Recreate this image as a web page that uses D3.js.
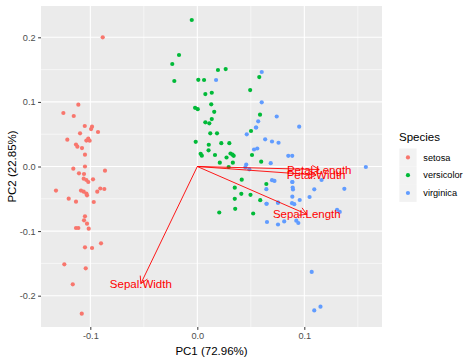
<!DOCTYPE html>
<html><head><meta charset="utf-8">
<script src="https://cdn.jsdelivr.net/npm/d3@7"></script>
<style>body{margin:0;background:#fff}svg{display:block;font-family:"Liberation Sans",Arial,sans-serif}</style>
</head><body><svg id="c" width="474" height="363"></svg>
<script>
const species = ["setosa","versicolor","virginica"];
const speciesColors = ["#F8766D","#00BA38","#619CFF"];
const setosaPC1 = [-0.0884,-0.1112,-0.1252,-0.1155,-0.1052,-0.0984,-0.0993,-0.0928,-0.1096,-0.1215,-0.1037,-0.1019,-0.1006,-0.1134,-0.1121,-0.1078,-0.1050,-0.1050,-0.1159,-0.0863,-0.1106,-0.1059,-0.1062,-0.1037,-0.1019,-0.0975,-0.1321,-0.1087,-0.1062,-0.1037,-0.1031,-0.0935,-0.0907,-0.0869,-0.1202,-0.1134,-0.0968,-0.1050,-0.1059,-0.1031,-0.1134,-0.1112,-0.1015,-0.0900,-0.1050,-0.0984,-0.1243,-0.1043,-0.1164,-0.1080];
const setosaPC2 = [0.2000,0.0957,0.0828,0.0782,0.0627,0.0616,0.0580,0.0534,0.0514,0.0415,0.0402,0.0433,0.0399,0.0341,0.0307,0.0286,0.0183,0.0000,-0.0034,-0.0065,-0.0105,-0.0116,-0.0189,-0.0209,-0.0240,-0.0198,-0.0372,-0.0372,-0.0390,-0.0418,-0.0446,-0.0390,-0.0341,-0.0348,-0.0498,-0.0545,-0.0550,-0.0771,-0.0833,-0.0885,-0.0952,-0.0952,-0.0963,-0.1189,-0.1251,-0.1262,-0.1514,-0.1576,-0.1824,-0.2279];
const versicolorPC1 = [-0.0052,-0.0171,-0.0234,-0.0215,0.0193,0.0265,0.0009,0.0063,0.0579,0.0075,0.0135,0.0494,0.0130,-0.0021,0.0004,0.0158,0.0586,0.0135,0.0075,0.0112,0.0502,0.0121,0.0184,-0.0015,0.0107,0.0224,0.0299,0.0105,0.0031,0.0042,0.0165,0.0273,0.0310,0.0329,0.0340,0.0511,0.0210,0.0332,0.0597,0.0293,0.0415,0.0350,0.0645,0.0411,0.0497,0.0350,0.0588,0.0205,0.0354,0.0522];
const versicolorPC2 = [0.2268,0.1726,0.1587,0.1324,0.1494,0.1509,0.1342,0.1339,0.1385,0.1122,0.1142,0.1184,0.0963,0.0909,0.0887,0.0847,0.0802,0.0735,0.0684,0.0669,0.0550,0.0514,0.0514,0.0382,0.0337,0.0361,0.0361,0.0251,0.0197,0.0167,0.0178,0.0139,0.0201,0.0183,0.0166,0.0178,0.0059,0.0059,0.0074,-0.0008,-0.0204,-0.0328,-0.0271,-0.0423,-0.0438,-0.0500,-0.0522,-0.0712,-0.0655,-0.0728];
const virginicaPC1 = [0.0602,0.0175,0.0602,0.0742,0.0952,0.0569,0.0549,0.0462,0.0634,0.0698,0.0759,0.0530,0.0560,0.0850,0.0887,0.0686,0.0457,0.0449,0.0486,0.1575,0.0698,0.0721,0.0888,0.0891,0.0894,0.1093,0.1374,0.1161,0.0645,0.0888,0.1049,0.0957,0.0647,0.0754,0.0885,0.0906,0.1306,0.1331,0.0651,0.0754,0.0812,0.0925,0.0944,0.1069,0.1093,0.1151,0.0754,0.0888,0.0647,0.0549];
const virginicaPC2 = [0.1463,0.1339,0.0994,0.0774,0.0616,0.0700,0.0604,0.0498,0.0421,0.0387,0.0368,0.0263,0.0279,0.0166,0.0166,0.0051,0.0031,-0.0012,-0.0043,-0.0008,-0.0212,-0.0224,-0.0240,-0.0325,-0.0356,-0.0353,-0.0345,-0.0209,-0.0351,-0.0467,-0.0472,-0.0519,-0.0577,-0.0560,-0.0568,-0.0584,-0.0670,-0.0704,-0.0859,-0.0898,-0.0851,-0.0839,-0.0875,-0.1633,-0.2229,-0.2170,-0.0560,-0.0240,-0.0577,0.0604];
const loadingNames = ["Sepal.Length","Sepal.Width","Petal.Length","Petal.Width"];
const loadingPC1 = [0.1023,-0.0528,0.1139,0.1110];
const loadingPC2 = [-0.0740,-0.1813,-0.0047,-0.0132];
const xDomain = [-0.1461,0.1726];
const yDomain = [-0.2485,0.2485];
const xTicks = [-0.1,0,0.1], xMinor = [-0.05,0.05,0.15];
const yTicks = [-0.2,-0.1,0,0.1,0.2], yMinor = [-0.15,-0.05,0.05,0.15];
const xTitle = "PC1 (72.96%)", yTitle = "PC2 (22.85%)", legendTitle = "Species";

const svg = d3.select("#c");
const L=41, R=382, T=6, B=327;
const x = d3.scaleLinear().domain(xDomain).range([L,R]);
const y = d3.scaleLinear().domain(yDomain).range([B,T]);
svg.append("rect").attr("x",L).attr("y",T).attr("width",R-L).attr("height",B-T).attr("fill","#EBEBEB");
const g = svg.append("g");
xMinor.forEach(v=>g.append("line").attr("x1",x(v)).attr("x2",x(v)).attr("y1",T).attr("y2",B).attr("stroke","#fff").attr("stroke-width",0.55));
yMinor.forEach(v=>g.append("line").attr("y1",y(v)).attr("y2",y(v)).attr("x1",L).attr("x2",R).attr("stroke","#fff").attr("stroke-width",0.55));
xTicks.forEach(v=>g.append("line").attr("x1",x(v)).attr("x2",x(v)).attr("y1",T).attr("y2",B).attr("stroke","#fff").attr("stroke-width",1.1));
yTicks.forEach(v=>g.append("line").attr("y1",y(v)).attr("y2",y(v)).attr("x1",L).attr("x2",R).attr("stroke","#fff").attr("stroke-width",1.1));

const fmt = d3.format(".1f");
const xAxis = d3.axisBottom(x).tickValues(xTicks).tickFormat(d=>fmt(d).replace("−","-")).tickSize(2.9).tickPadding(2.5);
const yAxis = d3.axisLeft(y).tickValues(yTicks).tickFormat(d=>fmt(d).replace("−","-")).tickSize(2.9).tickPadding(2.5);
const gx = svg.append("g").attr("transform",`translate(0,${B})`).call(xAxis);
const gy = svg.append("g").attr("transform",`translate(${L},0)`).call(yAxis);
[gx,gy].forEach(a=>{a.select(".domain").remove();a.selectAll(".tick line").attr("stroke","#333");
  a.selectAll(".tick text").attr("fill","#4D4D4D").style("font-size","9.2px").style("font-family","Liberation Sans, Arial, sans-serif");});

const series = [[setosaPC1,setosaPC2],[versicolorPC1,versicolorPC2],[virginicaPC1,virginicaPC2]];
series.forEach((s,i)=>{
  const pts = s[0].map((v,j)=>[v,s[1][j]]);
  svg.append("g").selectAll("circle").data(pts).join("circle")
    .attr("cx",d=>x(d[0])).attr("cy",d=>y(d[1])).attr("r",2.1).attr("fill",speciesColors[i]);
});

const lg = svg.append("g");
loadingNames.forEach((n,i)=>{
  const x0=x(0), y0=y(0), x1=x(loadingPC1[i]), y1=y(loadingPC2[i]);
  lg.append("line").attr("x1",x0).attr("y1",y0).attr("x2",x1).attr("y2",y1).attr("stroke","#FF0000").attr("stroke-width",0.9);
  const ang = Math.atan2(y1-y0,x1-x0), len=8;
  [Math.PI/6,-Math.PI/6].forEach(a=>{
    lg.append("line").attr("x1",x1).attr("y1",y1)
      .attr("x2",x1-len*Math.cos(ang+a)).attr("y2",y1-len*Math.sin(ang+a))
      .attr("stroke","#FF0000").attr("stroke-width",0.9);
  });
});
loadingNames.forEach((n,i)=>{
  lg.append("text").attr("x",x(loadingPC1[i])).attr("y",y(loadingPC2[i])).attr("dy","0.35em")
    .attr("text-anchor","middle").attr("fill","#FF0000").style("font-size","11.5px").text(n);
});

svg.append("text").attr("x",(L+R)/2).attr("y",355).attr("text-anchor","middle").style("font-size","11.5px").text(xTitle);
svg.append("text").attr("transform",`translate(16,${(T+B)/2}) rotate(-90)`).attr("text-anchor","middle").style("font-size","11.5px").text(yTitle);

const leg = svg.append("g");
leg.append("text").attr("x",399).attr("y",141).style("font-size","11.5px").text(legendTitle);
species.forEach((s,i)=>{
  const ky = 148.5 + i*17.8;
  leg.append("rect").attr("x",399.3).attr("y",ky).attr("width",17.3).attr("height",17.8).attr("fill","#F2F2F2");
  leg.append("circle").attr("cx",399.3+8.65).attr("cy",ky+8.9).attr("r",2.1).attr("fill",speciesColors[i]);
  leg.append("text").attr("x",423.3).attr("y",ky+8.9).attr("dy","0.35em").style("font-size","9.2px").text(s);
});
</script></body></html>
